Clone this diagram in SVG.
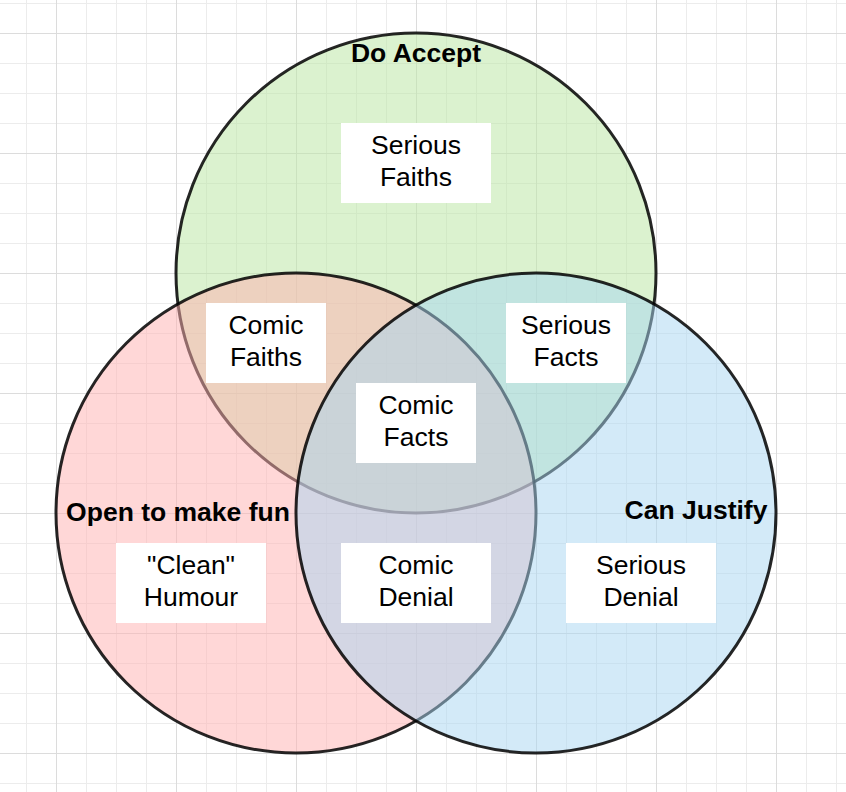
<svg xmlns="http://www.w3.org/2000/svg" width="846" height="792" viewBox="0 0 846 792">
<defs>
<pattern id="g" x="26" y="3" width="120" height="120" patternUnits="userSpaceOnUse">
<path d="M0.5 0V120M30.5 0V120M60.5 0V120M90.5 0V120M0 0.5H120M0 30.5H120M0 60.5H120M0 90.5H120" stroke="#ececec" stroke-width="1" fill="none"/>
<path d="M30.5 0V120M0 30.5H120" stroke="#dcdcdc" stroke-width="1" fill="none"/>
</pattern>
</defs>
<style>
.c{stroke:#000;stroke-width:3;stroke-opacity:0.85}
.b{fill:#fff}
.t{font-family:"Liberation Sans",Arial,sans-serif;font-size:26.5px;text-anchor:middle;fill:#000}
.h{font-family:"Liberation Sans",Arial,sans-serif;font-size:26.5px;font-weight:bold;text-anchor:middle;fill:#000}
</style>
<rect width="846" height="792" fill="#fff"/>
<rect width="846" height="792" fill="url(#g)"/>
<g id="circles">
<circle id="accept" class="c" cx="416" cy="273" r="240" fill="#bde8a8" fill-opacity="0.55"/>
<circle id="fun" class="c" cx="296" cy="513" r="240" fill="#ffb0b0" fill-opacity="0.5"/>
<circle id="justify" class="c" cx="536" cy="513" r="240" fill="#a8d6f2" fill-opacity="0.5"/>
</g>
<g id="labels">
<text class="h" x="416" y="62">Do Accept</text>
<text class="h" x="178" y="521">Open to make fun</text>
<text class="h" x="696" y="519">Can Justify</text>
</g>
<g id="n1"><rect class="b" x="341" y="123" width="150" height="80"/><text class="t" x="416" y="154">Serious</text><text class="t" x="416" y="186">Faiths</text></g>
<g id="n2"><rect class="b" x="206" y="303" width="120" height="80"/><text class="t" x="266" y="334">Comic</text><text class="t" x="266" y="366">Faiths</text></g>
<g id="n3"><rect class="b" x="506" y="303" width="120" height="80"/><text class="t" x="566" y="334">Serious</text><text class="t" x="566" y="366">Facts</text></g>
<g id="n4"><rect class="b" x="356" y="383" width="120" height="80"/><text class="t" x="416" y="414">Comic</text><text class="t" x="416" y="446">Facts</text></g>
<g id="n5"><rect class="b" x="116" y="543" width="150" height="80"/><text class="t" x="191" y="574">"Clean"</text><text class="t" x="191" y="606">Humour</text></g>
<g id="n6"><rect class="b" x="341" y="543" width="150" height="80"/><text class="t" x="416" y="574">Comic</text><text class="t" x="416" y="606">Denial</text></g>
<g id="n7"><rect class="b" x="566" y="543" width="150" height="80"/><text class="t" x="641" y="574">Serious</text><text class="t" x="641" y="606">Denial</text></g>
<g id="connectors"/>
</svg>
